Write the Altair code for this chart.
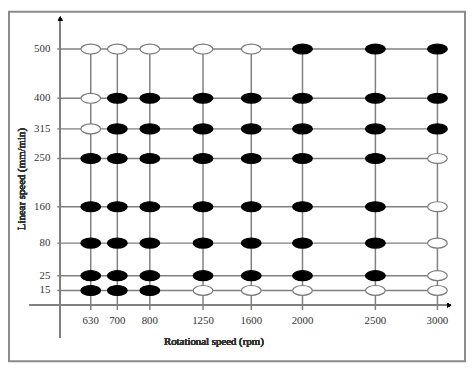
import altair as alt
import pandas as pd

# ---- data ----
rpm = [630, 700, 800, 1250, 1600, 2000, 2500, 3000]
speeds = [15, 25, 80, 160, 250, 315, 400, 500]
# 1 = filled (black) ellipse, 0 = open (white) ellipse; one list per linear speed
filled = {
    500: [0, 0, 0, 0, 0, 1, 1, 1],
    400: [0, 1, 1, 1, 1, 1, 1, 1],
    315: [0, 1, 1, 1, 1, 1, 1, 1],
    250: [1, 1, 1, 1, 1, 1, 1, 0],
    160: [1, 1, 1, 1, 1, 1, 1, 0],
    80: [1, 1, 1, 1, 1, 1, 1, 0],
    25: [1, 1, 1, 1, 1, 1, 1, 0],
    15: [1, 1, 1, 0, 0, 0, 0, 0],
}
x_title = "Rotational speed (rpm)"
y_title = "Linear speed (mm/min)"

# ---- tables ----
pts = pd.DataFrame(
    [
        {"rpm": r, "speed": s, "state": "filled" if filled[s][i] else "open"}
        for s in speeds
        for i, r in enumerate(rpm)
    ]
)
cols = pd.DataFrame({"rpm": rpm, "label": [str(r) for r in rpm], "top": max(speeds)})
rows = pd.DataFrame({"speed": speeds, "label": [str(s) for s in speeds], "end": max(rpm)})

# non-uniform (piecewise) positions as in the original figure
xscale = alt.Scale(type="linear", domain=rpm,
                   range=[83, 110, 143, 197, 246, 298, 372, 435])
yscale = alt.Scale(type="linear", domain=speeds,
                   range=[283, 268, 235, 198, 149, 119, 88, 38])

LINE = "#808080"
FONT = "Liberation Serif"

vlines = alt.Chart(cols).mark_rule(color=LINE, strokeWidth=1.5).encode(
    x=alt.X("rpm:Q", scale=xscale, axis=None),
    y=alt.Y("top:Q", scale=yscale, axis=None),
    y2=alt.value(303),
)
hlines = alt.Chart(rows).mark_rule(color=LINE, strokeWidth=1.5).encode(
    y=alt.Y("speed:Q", scale=yscale, axis=None),
    x=alt.X("end:Q", scale=xscale, axis=None),
    x2=alt.value(49),
)
yaxis = alt.Chart(cols).mark_rule(color=LINE, strokeWidth=1.5).encode(
    x=alt.value(52), y=alt.value(8), y2=alt.value(331)
)
xaxis = alt.Chart(cols).mark_rule(color=LINE, strokeWidth=1.5).encode(
    y=alt.value(298), x=alt.value(21), x2=alt.value(446)
)
yarrow = alt.Chart(cols).mark_point(
    shape="triangle-up", filled=True, color="black", size=22, opacity=1
).encode(x=alt.value(52), y=alt.value(7))
xarrow = alt.Chart(cols).mark_point(
    shape="triangle-right", filled=True, color="black", size=22, opacity=1
).encode(x=alt.value(447), y=alt.value(298))

ellipse = "M-1,0A1,0.5 0 1,1 1,0A1,0.5 0 1,1 -1,0Z"
points = alt.Chart(pts).mark_point(
    shape=ellipse, size=400, filled=True, opacity=1, strokeWidth=1.2
).encode(
    x=alt.X("rpm:Q", scale=xscale, axis=None),
    y=alt.Y("speed:Q", scale=yscale, axis=None),
    fill=alt.Fill("state:N", scale=alt.Scale(domain=["filled", "open"],
                                             range=["#000000", "#ffffff"]), legend=None),
    stroke=alt.Stroke("state:N", scale=alt.Scale(domain=["filled", "open"],
                                                 range=["#000000", "#7a7a7a"]), legend=None),
)

xlabels = alt.Chart(cols).mark_text(
    font=FONT, fontSize=11, color="#333333", align="center", baseline="middle"
).encode(x=alt.X("rpm:Q", scale=xscale, axis=None), y=alt.value(314), text="label:N")
ylabels = alt.Chart(rows).mark_text(
    font=FONT, fontSize=11, color="#333333", align="right", baseline="middle"
).encode(y=alt.Y("speed:Q", scale=yscale, axis=None), x=alt.value(42), text="label:N")

xtitle = alt.Chart(cols).mark_text(
    text=x_title, font=FONT, fontSize=11, color="#333333", align="center", baseline="middle"
).encode(x=alt.value(208), y=alt.value(335))
ytitle = alt.Chart(cols).mark_text(
    text=y_title, font=FONT, fontSize=11, color="#333333", align="center",
    baseline="middle", angle=270
).encode(x=alt.value(13), y=alt.value(170))

chart = alt.layer(
    vlines, hlines, yaxis, xaxis, yarrow, xarrow, points,
    xlabels, ylabels, xtitle, ytitle
).properties(
    width=463, height=355,
    autosize=alt.AutoSizeParams(type="none"),
    padding={"left": 1, "top": 1, "right": 1, "bottom": 1},
    background="white",
).configure_view(stroke="#8a8a8a", strokeWidth=2)

chart.save("out.html", embed_options={"renderer": "svg", "actions": False})
